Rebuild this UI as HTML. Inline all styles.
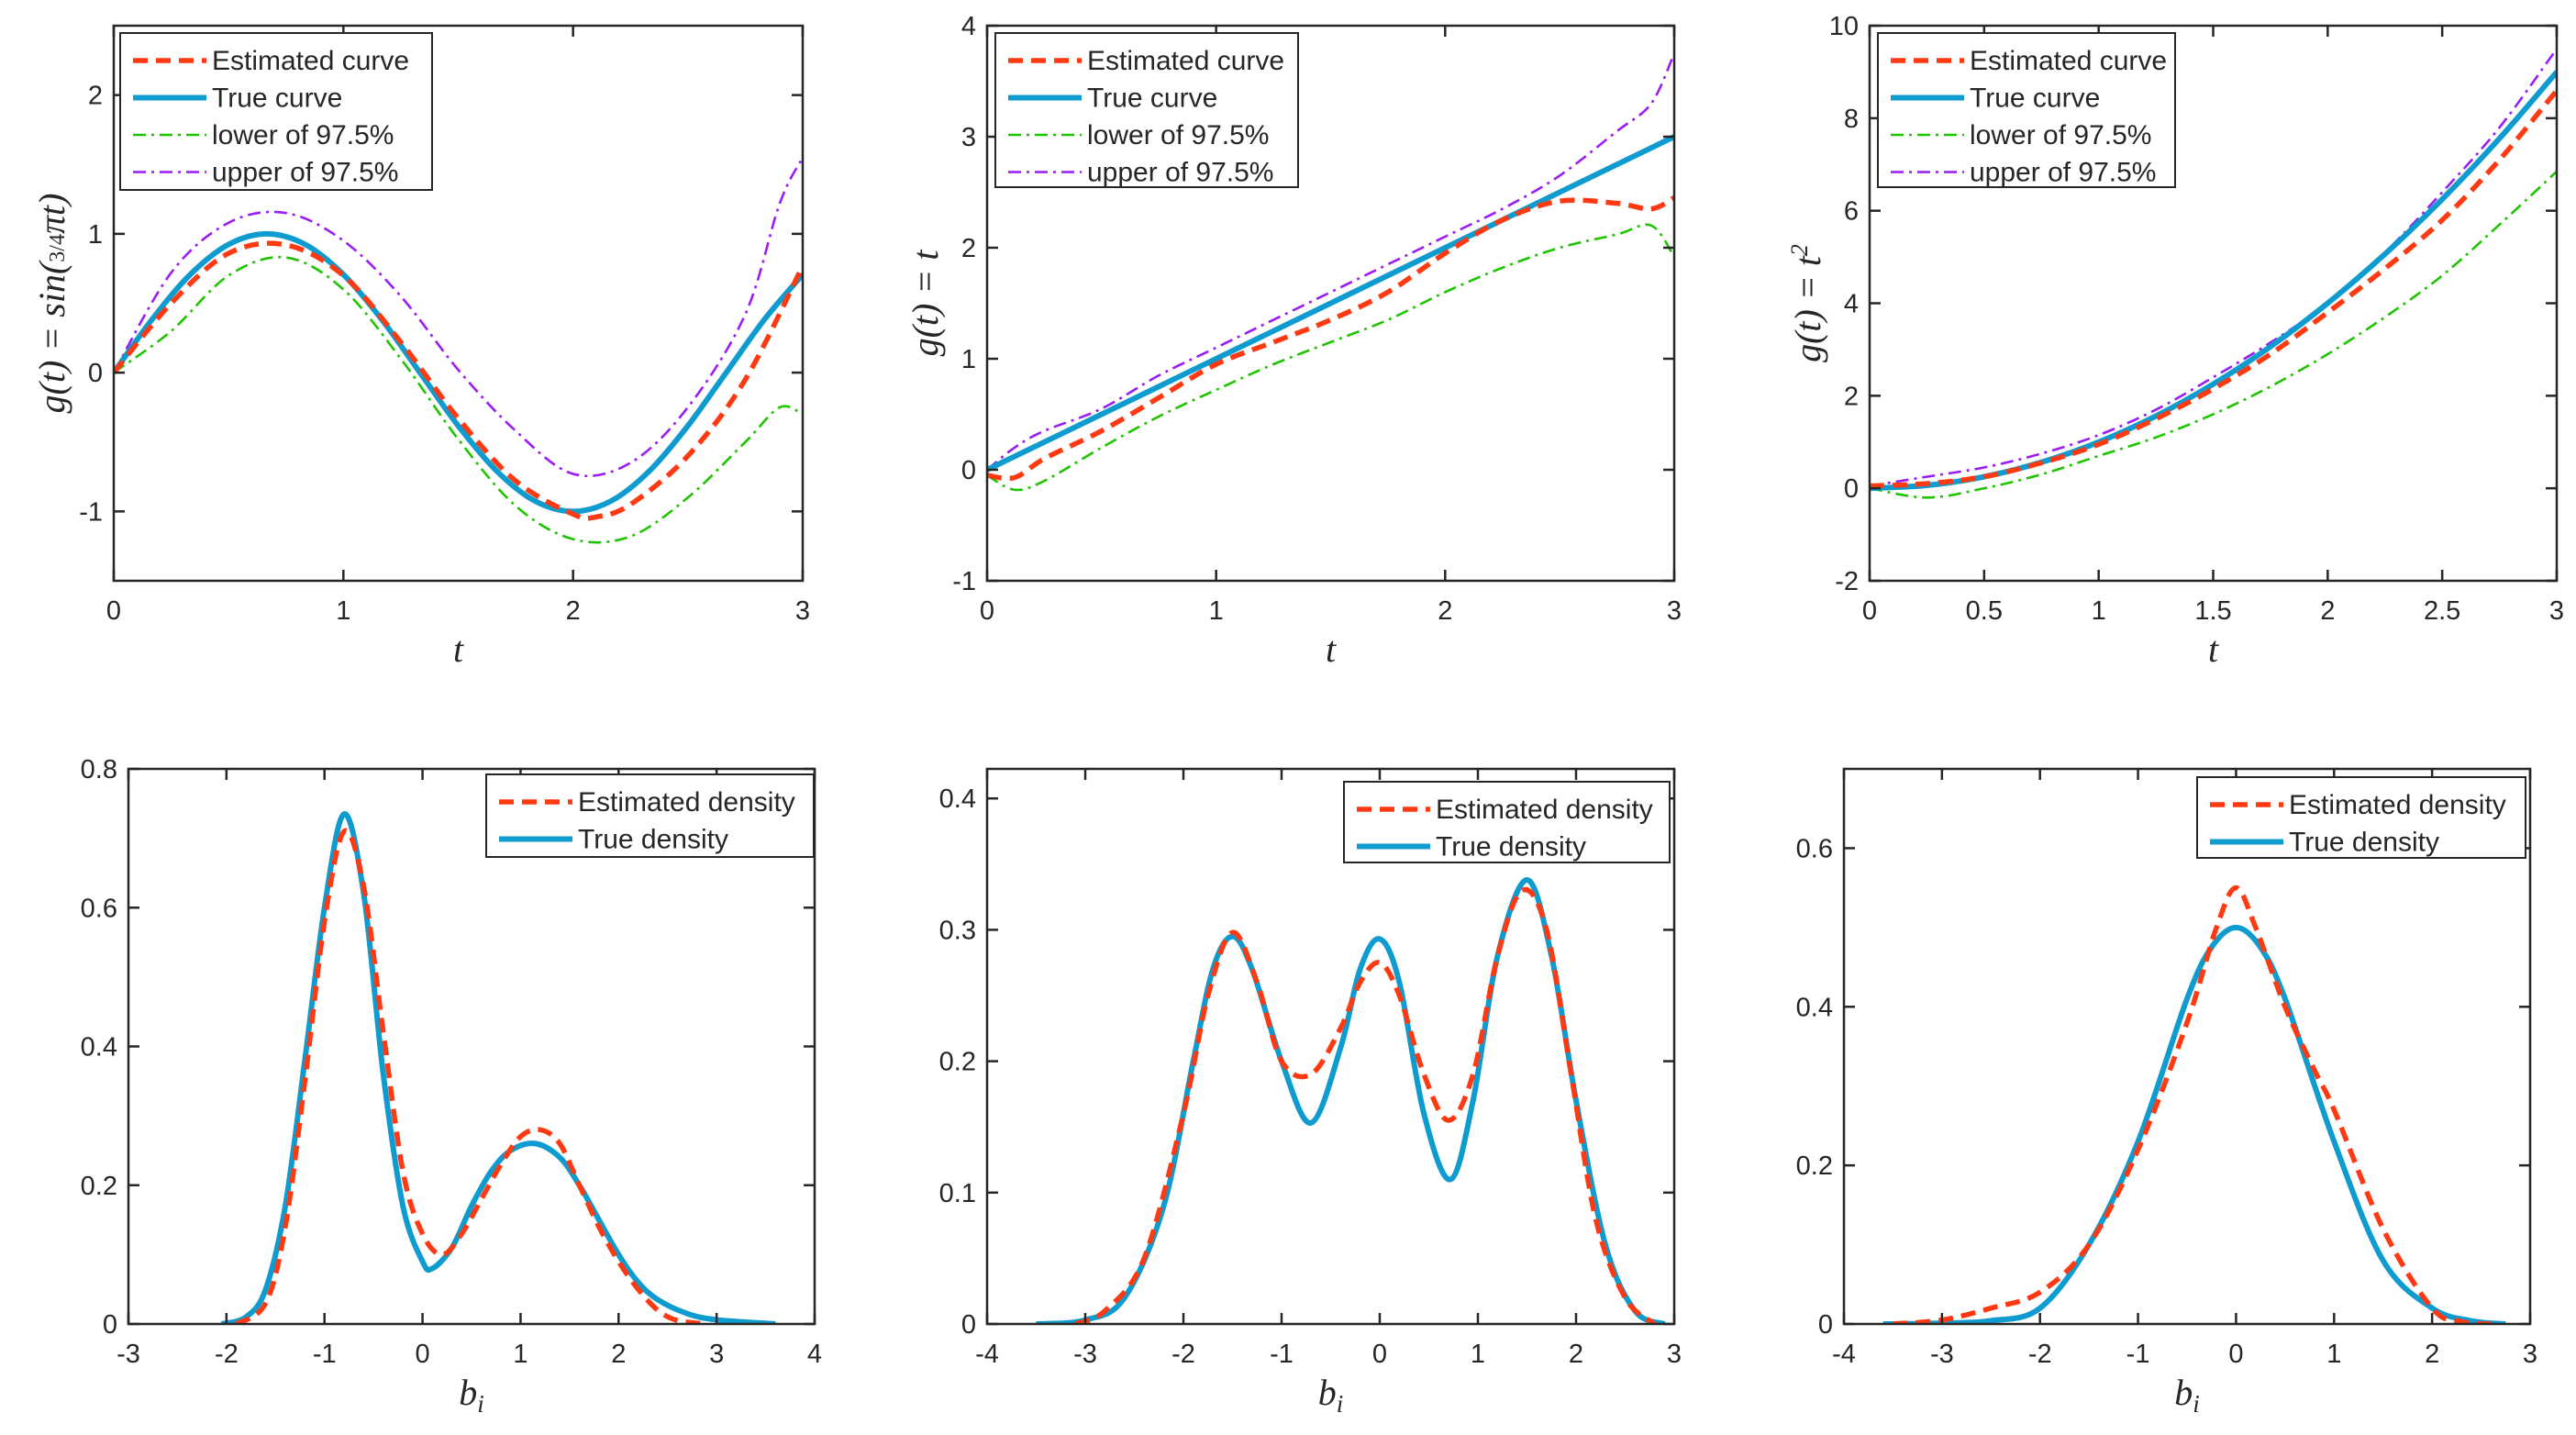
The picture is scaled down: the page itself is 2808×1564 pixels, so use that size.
<!DOCTYPE html>
<html><head><meta charset="utf-8"><style>
body{margin:0;background:#fff}
svg{display:block}
text{font-family:"Liberation Sans",sans-serif;fill:#262626}
.ser{font-family:"Liberation Serif",serif;font-style:italic}
</style></head><body>
<svg id="fig" width="2808" height="1564" viewBox="0 0 2808 1564" xmlns="http://www.w3.org/2000/svg"></svg>
<script>
// ---- data ----
const p1T = [0,0.1667,0.3333,0.5,0.6667,0.8333,1,1.1667,1.3333,1.5,1.6667,1.8333,2,2.1667,2.3333,2.5,2.6667,2.8333,3];
const p1True = [0,0.383,0.707,0.924,1,0.924,0.707,0.383,0,-0.383,-0.707,-0.924,-1,-0.924,-0.707,-0.383,0,0.383,0.707];
const p1EstT = [0,0.25,0.5,0.75,1,1.25,1.5,1.75,2,2.1,2.25,2.5,2.75,3];
const p1Est = [0,0.5,0.86,0.92,0.7,0.22,-0.33,-0.78,-1.02,-1.04,-0.95,-0.6,-0.05,0.77];
const p1BT = [0,0.25,0.5,0.75,1,1.25,1.5,1.75,2,2.25,2.5,2.75,2.9,3];
const p1Up = [0,0.72,1.08,1.15,0.95,0.55,0.02,-0.42,-0.73,-0.65,-0.25,0.42,1.22,1.55];
const p1Lo = [0,0.3,0.7,0.83,0.6,0.1,-0.48,-0.96,-1.2,-1.18,-0.9,-0.5,-0.25,-0.3];

const p2T = [0,3];
const p2True = [0,3];
const p2BT = [0,0.12,0.25,0.5,0.75,1,1.25,1.5,1.75,2,2.25,2.5,2.75,2.9,3];
const p2Est = [-0.05,-0.07,0.1,0.35,0.65,0.95,1.15,1.35,1.6,1.95,2.25,2.42,2.4,2.35,2.45];
const p2Up = [0,0.2,0.35,0.55,0.85,1.1,1.35,1.6,1.85,2.1,2.35,2.65,3.05,3.3,3.75];
const p2Lo = [-0.05,-0.18,-0.1,0.2,0.48,0.72,0.95,1.15,1.35,1.6,1.82,2.0,2.12,2.2,1.92];

const p3T = [0,0.25,0.5,0.75,1,1.25,1.5,1.75,2,2.25,2.5,2.75,3];
const p3True = [0,0.0625,0.25,0.5625,1,1.5625,2.25,3.0625,4,5.0625,6.25,7.5625,9];
const p3Est = [0.05,0.1,0.25,0.55,0.95,1.5,2.15,2.9,3.8,4.75,5.8,7.1,8.6];
const p3Up = [0.05,0.25,0.45,0.75,1.15,1.7,2.4,3.15,4.0,5.1,6.4,7.8,9.5];
const p3Lo = [0,-0.2,0,0.3,0.7,1.1,1.6,2.2,2.9,3.7,4.6,5.7,6.85];

const p4TX = [-2.05,-1.8,-1.6,-1.4,-1.2,-1.0,-0.8,-0.6,-0.4,-0.2,0,0.1,0.3,0.5,0.7,0.9,1.15,1.4,1.6,1.8,2.0,2.2,2.4,2.7,3.0,3.6];
const p4True = [0,0.01,0.05,0.17,0.38,0.6,0.735,0.62,0.36,0.17,0.09,0.08,0.11,0.17,0.22,0.25,0.26,0.24,0.2,0.15,0.1,0.06,0.035,0.015,0.006,0];
const p4EX = [-1.9,-1.6,-1.4,-1.2,-1.0,-0.8,-0.6,-0.4,-0.2,0,0.2,0.4,0.6,0.8,1.0,1.2,1.4,1.6,1.8,2.0,2.2,2.4,2.6,2.9];
const p4Est = [0,0.03,0.14,0.35,0.58,0.71,0.63,0.42,0.22,0.13,0.1,0.13,0.18,0.23,0.27,0.28,0.26,0.2,0.14,0.09,0.05,0.02,0.005,0];

const p5TX = [-3.5,-3,-2.6,-2.2,-1.9,-1.7,-1.5,-1.3,-1.0,-0.7,-0.4,-0.2,0,0.2,0.45,0.72,0.95,1.2,1.5,1.75,2.0,2.3,2.6,2.9];
const p5True = [0,0.003,0.02,0.09,0.2,0.27,0.295,0.27,0.2,0.153,0.21,0.27,0.293,0.26,0.16,0.11,0.17,0.28,0.338,0.28,0.17,0.06,0.01,0];
const p5EX = [-3.1,-2.8,-2.4,-2.0,-1.75,-1.5,-1.25,-1.0,-0.7,-0.4,-0.2,0,0.2,0.45,0.7,0.95,1.2,1.45,1.7,1.95,2.2,2.5,2.8];
const p5Est = [0,0.01,0.05,0.16,0.25,0.298,0.26,0.2,0.19,0.225,0.26,0.275,0.25,0.19,0.155,0.19,0.28,0.33,0.3,0.19,0.08,0.02,0];

const p6TX = [-3.6,-3,-2.5,-2,-1.5,-1,-0.5,-0.25,0,0.25,0.5,1,1.5,2,2.4,2.75];
const p6True = [0,0.001,0.004,0.02,0.1,0.23,0.41,0.475,0.5,0.475,0.41,0.23,0.08,0.02,0.004,0];
const p6EX = [-3.5,-3,-2.5,-2,-1.5,-1,-0.5,-0.2,0,0.2,0.5,0.8,1,1.5,2,2.3,2.6];
const p6Est = [0,0.005,0.02,0.04,0.1,0.22,0.38,0.5,0.55,0.5,0.4,0.32,0.27,0.12,0.02,0.003,0];

const curveLegend = ["Estimated curve","True curve","lower of 97.5%","upper of 97.5%"];
const densLegend = ["Estimated density","True density"];

// ---- drawing ----
const NS="http://www.w3.org/2000/svg";
const fig=document.getElementById('fig');
const RED="#ff3a12",BLUE="#0e9bcf",GREEN="#1ec400",PURPLE="#9b1cf5";
function mk(tag,attrs,parent){const e=document.createElementNS(NS,tag);for(const k in attrs)e.setAttribute(k,attrs[k]);(parent||fig).appendChild(e);return e;}
function smooth(pts){
  if(pts.length<3){return "M"+pts.map(p=>p[0].toFixed(1)+","+p[1].toFixed(1)).join("L");}
  let d="M"+pts[0][0].toFixed(1)+","+pts[0][1].toFixed(1);
  for(let i=0;i<pts.length-1;i++){
    const p0=pts[i-1]||pts[i],p1=pts[i],p2=pts[i+1],p3=pts[i+2]||p2;
    const c1=[p1[0]+(p2[0]-p0[0])/6,p1[1]+(p2[1]-p0[1])/6];
    const c2=[p2[0]-(p3[0]-p1[0])/6,p2[1]-(p3[1]-p1[1])/6];
    d+="C"+c1.map(v=>v.toFixed(1)).join(",")+" "+c2.map(v=>v.toFixed(1)).join(",")+" "+p2[0].toFixed(1)+","+p2[1].toFixed(1);
  }
  return d;
}
function axes(cfg){
  const g=mk('g',{});
  
  
  const {x0,x1,y0,y1,xmin,xmax,ymin,ymax}=cfg;
  const sx=v=>x0+(v-xmin)/(xmax-xmin)*(x1-x0);
  const sy=v=>y1-(v-ymin)/(ymax-ymin)*(y1-y0);
  const clip='c'+cfg.name;
  const cp=mk('clipPath',{id:clip},g);mk('rect',{x:x0,y:y0,width:x1-x0,height:y1-y0},cp);
  const lines=mk('g',{'clip-path':`url(#${clip})`},g);
  cfg.series.forEach(s=>{
    const pts=s.x.map((v,i)=>[sx(v),sy(s.y[i])]);
    const p=mk('path',{d:smooth(pts),fill:'none',stroke:s.c,'stroke-width':s.w,'stroke-dasharray':s.dash||'none','stroke-linejoin':'round'},lines);
    
    
  });
  mk('rect',{x:x0,y:y0,width:x1-x0,height:y1-y0,fill:'none',stroke:'#262626','stroke-width':2.5},g);
  cfg.xt.forEach(v=>{
    const X=sx(v);
    mk('line',{x1:X,x2:X,y1:y1,y2:y1-12,stroke:'#262626','stroke-width':2.5},g);
    mk('line',{x1:X,x2:X,y1:y0,y2:y0+12,stroke:'#262626','stroke-width':2.5},g);
    const t=mk('text',{x:X,y:y1+42,'text-anchor':'middle','font-size':29},g);t.textContent=v;
    
    
  });
  cfg.yt.forEach(v=>{
    const Y=sy(v);
    mk('line',{x1:x0,x2:x0+12,y1:Y,y2:Y,stroke:'#262626','stroke-width':2.5},g);
    mk('line',{x1:x1,x2:x1-12,y1:Y,y2:Y,stroke:'#262626','stroke-width':2.5},g);
    const t=mk('text',{x:x0-12,y:Y+10,'text-anchor':'end','font-size':29},g);t.textContent=v;
    
    
  });
  const xl=mk('text',{x:(x0+x1)/2,y:y1+88,'text-anchor':'middle','font-size':40,class:'ser'},g);
  if(cfg.xlab==='b'){xl.innerHTML='b<tspan font-size="27" dy="8">i</tspan>';}else xl.textContent='t';
  
  
  if(cfg.ylab){
    const yl=mk('text',{transform:`translate(${x0-54},${(y0+y1)/2}) rotate(-90)`,'text-anchor':'middle','font-size':40,class:'ser'},g);
    yl.innerHTML=cfg.ylab;
    
    
  }
  const L=cfg.leg;
  const lg=mk('g',{},g);
  
  
  mk('rect',{x:L.x,y:L.y,width:L.w,height:L.h,fill:'#fff',stroke:'#262626','stroke-width':2},lg);
  L.labels.forEach((lab,i)=>{
    const s=L.styles[i];const Y=L.y+30+i*40.5;
    mk('line',{x1:L.x+14,x2:L.x+94,y1:Y,y2:Y,stroke:s.c,'stroke-width':s.w,'stroke-dasharray':s.dash||'none'},lg);
    const t=mk('text',{x:L.x+100,y:Y+10,'font-size':30},lg);t.textContent=lab;
    
    
  });
}
const sEst={c:RED,w:5.5,dash:'16 9'},sTrue={c:BLUE,w:6},sLo={c:GREEN,w:2.6,dash:'14 6 3 6'},sUp={c:PURPLE,w:2.6,dash:'14 6 3 6'};
const curveStyles=[sEst,sTrue,sLo,sUp],densStyles=[sEst,sTrue];
function ser(st,name,x,y){return Object.assign({},st,{name,x,y});}
const t0_3=[0,1,2,3];
axes({name:'plot-sin',x0:124,x1:875,y0:28,y1:633,xmin:0,xmax:3,ymin:-1.5,ymax:2.5,xt:t0_3,yt:[-1,0,1,2],
  ylab:'g(t) = sin(<tspan font-size="24" font-style="normal">3/4</tspan>πt)',
  series:[ser(sLo,'lower-band',p1BT,p1Lo),ser(sUp,'upper-band',p1BT,p1Up),ser(sTrue,'true-curve',p1T,p1True),ser(sEst,'estimated-curve',p1EstT,p1Est)],
  leg:{x:131,y:36,w:340,h:171,labels:curveLegend,styles:curveStyles}});
axes({name:'plot-linear',x0:1076,x1:1825,y0:28,y1:633,xmin:0,xmax:3,ymin:-1,ymax:4,xt:t0_3,yt:[-1,0,1,2,3,4],
  ylab:'g(t) = t',
  series:[ser(sLo,'lower-band',p2BT,p2Lo),ser(sUp,'upper-band',p2BT,p2Up),ser(sTrue,'true-curve',p2T,p2True),ser(sEst,'estimated-curve',p2BT,p2Est)],
  leg:{x:1085,y:36,w:330,h:168,labels:curveLegend,styles:curveStyles}});
axes({name:'plot-square',x0:2038,x1:2787,y0:28,y1:633,xmin:0,xmax:3,ymin:-2,ymax:10,xt:[0,0.5,1,1.5,2,2.5,3],yt:[-2,0,2,4,6,8,10],
  ylab:'g(t) = t<tspan font-size="26" dy="-14">2</tspan>',
  series:[ser(sLo,'lower-band',p3T,p3Lo),ser(sUp,'upper-band',p3T,p3Up),ser(sTrue,'true-curve',p3T,p3True),ser(sEst,'estimated-curve',p3T,p3Est)],
  leg:{x:2047,y:36,w:324,h:168,labels:curveLegend,styles:curveStyles}});
axes({name:'density-bimodal',x0:140,x1:888,y0:838,y1:1443,xmin:-3,xmax:4,ymin:0,ymax:0.8,xt:[-3,-2,-1,0,1,2,3,4],yt:[0,0.2,0.4,0.6,0.8],xlab:'b',
  series:[ser(sTrue,'true-density',p4TX,p4True),ser(sEst,'estimated-density',p4EX,p4Est)],
  leg:{x:530,y:844,w:357,h:90,labels:densLegend,styles:densStyles}});
axes({name:'density-trimodal',x0:1076,x1:1825,y0:838,y1:1443,xmin:-4,xmax:3,ymin:0,ymax:0.4225,xt:[-4,-3,-2,-1,0,1,2,3],yt:[0,0.1,0.2,0.3,0.4],xlab:'b',
  series:[ser(sTrue,'true-density',p5TX,p5True),ser(sEst,'estimated-density',p5EX,p5Est)],
  leg:{x:1465,y:852,w:355,h:88,labels:densLegend,styles:densStyles}});
axes({name:'density-normal',x0:2010,x1:2758,y0:838,y1:1443,xmin:-4,xmax:3,ymin:0,ymax:0.7,xt:[-4,-3,-2,-1,0,1,2,3],yt:[0,0.2,0.4,0.6],xlab:'b',
  series:[ser(sTrue,'true-density',p6TX,p6True),ser(sEst,'estimated-density',p6EX,p6Est)],
  leg:{x:2395,y:847,w:358,h:88,labels:densLegend,styles:densStyles}});
</script>
</body></html>
